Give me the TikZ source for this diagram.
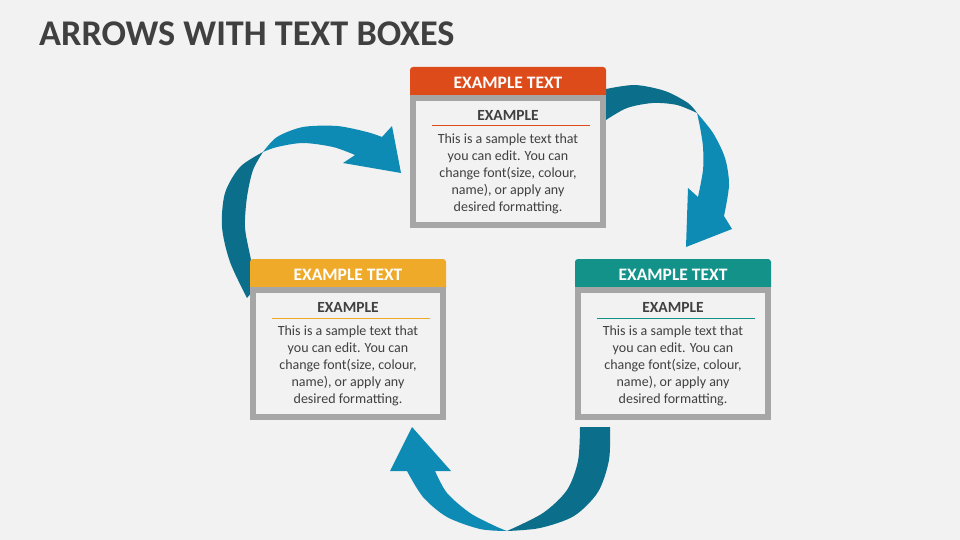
\documentclass[tikz,border=0pt]{standalone}
\usepackage{fontspec}
\setmainfont{Carlito}
\definecolor{bgc}{HTML}{F2F2F2}
\definecolor{txt}{HTML}{404040}
\definecolor{frameg}{HTML}{A6A6A6}
\definecolor{cOrange}{HTML}{DD4B1A}
\definecolor{cGold}{HTML}{EFAA2A}
\definecolor{cTeal}{HTML}{13928A}
\definecolor{arrDark}{HTML}{0B6F8C}
\definecolor{arrLight}{HTML}{0E8BB4}
\tikzset{
  hdrtext/.style={text=white, font=\fontsize{17.5}{20}\selectfont\bfseries, inner sep=0pt},
  subtext/.style={text=txt, font=\fontsize{15.5}{18}\selectfont\bfseries, inner sep=0pt},
  bodytext/.style={text=txt, font=\fontsize{14}{17}\selectfont, align=center, inner sep=0pt},
  cardframe/.style={draw=frameg, line width=6pt, fill=bgc},
}
\newcommand{\textcard}[4]{% #1 left x, #2 top y, #3 colour, #4 name
  \fill[#3] (#1,#2+28) [rounded corners=3pt] -- (#1,#2) -- (#1+196,#2) [sharp corners] -- (#1+196,#2+28) -- cycle;
  \draw[cardframe] (#1+3,#2+31) rectangle (#1+193,#2+158);
  \node[hdrtext] (#4h) at (#1+98,#2+15.5) {EXAMPLE TEXT};
  \node[subtext] (#4s) at (#1+98,#2+48) {EXAMPLE};
  \draw[#3, line width=1pt] (#1+22,#2+59) -- (#1+180,#2+59);
  \node[bodytext] (#4b) at (#1+98,#2+107) {This is a sample text that\\you can edit. You can\\change font(size, colour,\\name), or apply any\\desired formatting.};
}
\begin{document}
\begin{tikzpicture}[x=1pt,y=-1pt]
\fill[bgc] (0,0) rectangle (960,540);
\useasboundingbox (0,0) rectangle (960,540);

\node[anchor=base west, inner sep=0pt, text=txt, font=\fontsize{36.2}{40}\selectfont\bfseries] (title) at (39,46) {ARROWS WITH TEXT BOXES};

% Arrow A: top box -> right box (twist point at 697,113)
\coordinate (pa) at (697,113);
\fill[arrDark] plot[smooth] coordinates {(606,89) (635,85) (665,91) (688,103) (pa)}
  -- plot[smooth] coordinates {(pa) (677,105) (653,103) (627,108) (606,120)} -- cycle;
\fill[arrLight] plot[smooth] coordinates {(pa) (713,133) (725,158) (729,185) (724,216)}
  -- (732,229) -- (686,247) -- (688,188) -- (698,197)
  -- plot[smooth] coordinates {(698,197) (703,170) (703,147) (700,127) (pa)} -- cycle;

% Arrow B: left box -> top box (twist point at 263,152)
\coordinate (pb) at (263,152);
\fill[arrDark] plot[smooth] coordinates {(247,298) (230,262) (222,227) (225,193) (240,167) (pb)}
  -- plot[smooth] coordinates {(pb) (253,170) (247,197) (245,227) (250,255) (257,286)} -- cycle;
\fill[arrLight] plot[smooth] coordinates {(pb) (277,137) (303,127) (337,126) (367,132) (382,137)}
  -- (392,126) -- (401,173) -- (343,163) -- (355,155)
  -- plot[smooth] coordinates {(355,155) (333,147) (303,143) (277,147) (pb)} -- cycle;

% Arrow C: right box -> left box (twist point at 507,531)
\coordinate (pc) at (507,531);
\fill[arrDark] (580,427) -- (610,427)
  -- plot[smooth] coordinates {(610,427) (609,460) (598,492) (574,516) (540,528) (pc)}
  -- plot[smooth] coordinates {(pc) (543,513) (567,490) (578,461) (580,427)} -- cycle;
\fill[arrLight] plot[smooth] coordinates {(pc) (480,529) (447,517) (423,497) (407,471)}
  -- (390,471) -- (412,427) -- (451,471) -- (435,471)
  -- plot[smooth] coordinates {(435,471) (447,493) (470,513) (495,526) (pc)} -- cycle;

% Cards
\textcard{410}{67}{cOrange}{top}
\textcard{250}{259}{cGold}{left}
\textcard{575}{259}{cTeal}{right}
\end{tikzpicture}
\end{document}
